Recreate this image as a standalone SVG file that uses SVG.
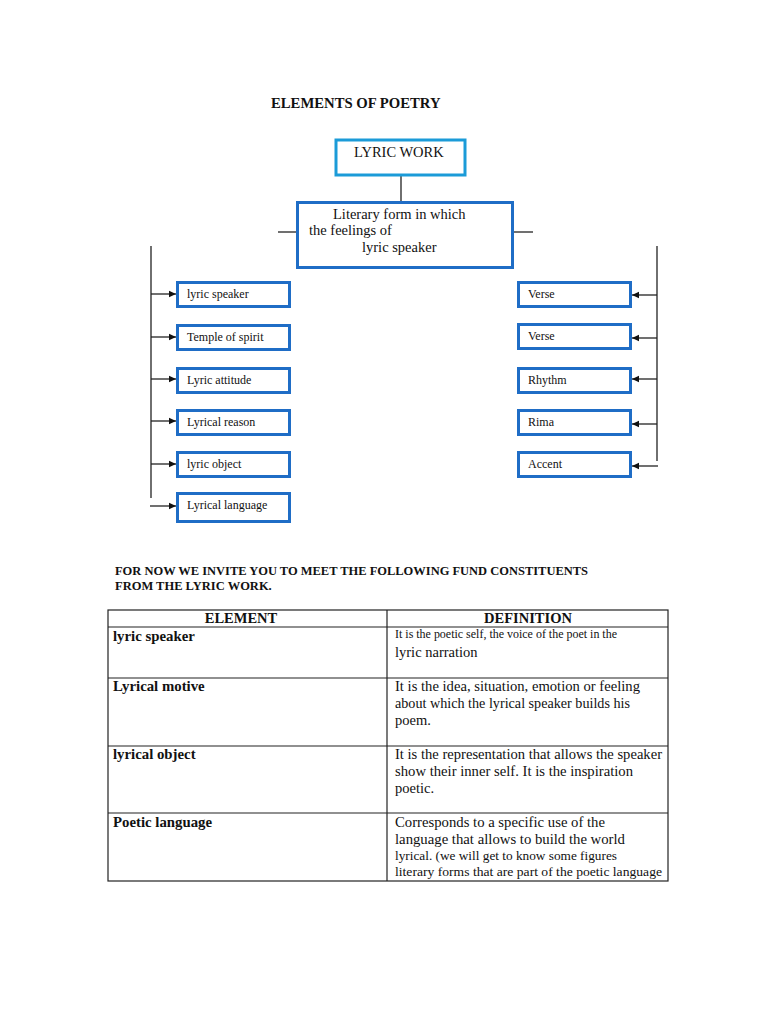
<svg xmlns="http://www.w3.org/2000/svg" width="768" height="1024" viewBox="0 0 768 1024">
<style>
text{font-family:"Liberation Serif","Times New Roman",serif;fill:#111}
.b{font-weight:bold}
.box{fill:#fff;stroke:#1f6dc6;stroke-width:3}
.top{fill:#fff;stroke:#1b9bd8;stroke-width:3}
.ln{stroke:#222;stroke-width:1.3;fill:none}
.tb{stroke:#222;stroke-width:1.2;fill:none}
.s{font-size:12px}
.m{font-size:14.5px}
.lc{font-size:14.8px;font-weight:bold}
</style>
<defs>
<marker id="ah" markerWidth="8" markerHeight="8" refX="7" refY="4" orient="auto" markerUnits="userSpaceOnUse">
<path d="M0,0.8 L7,4 L0,7.2 Z" fill="#111"/>
</marker>
</defs>
<rect width="768" height="1024" fill="#fff"/>
<text class="b" x="271" y="108" font-size="14.7">ELEMENTS OF POETRY</text>

<g id="connectors">
<line class="ln" x1="401" y1="176" x2="401" y2="202"/>
<line class="ln" x1="278" y1="232" x2="297" y2="232"/>
<line class="ln" x1="513" y1="232" x2="533" y2="232"/>
<line class="ln" x1="151" y1="246" x2="151" y2="498"/>
<line class="ln" x1="151" y1="294" x2="176" y2="294" marker-end="url(#ah)"/>
<line class="ln" x1="151" y1="337" x2="176" y2="337" marker-end="url(#ah)"/>
<line class="ln" x1="151" y1="379" x2="176" y2="379" marker-end="url(#ah)"/>
<line class="ln" x1="151" y1="421" x2="176" y2="421" marker-end="url(#ah)"/>
<line class="ln" x1="151" y1="464" x2="176" y2="464" marker-end="url(#ah)"/>
<line class="ln" x1="150" y1="506" x2="176" y2="506" marker-end="url(#ah)"/>
<line class="ln" x1="657" y1="246" x2="657" y2="461"/>
<line class="ln" x1="657" y1="295" x2="632" y2="295" marker-end="url(#ah)"/>
<line class="ln" x1="657" y1="338" x2="632" y2="338" marker-end="url(#ah)"/>
<line class="ln" x1="657" y1="379" x2="632" y2="379" marker-end="url(#ah)"/>
<line class="ln" x1="657" y1="424" x2="632" y2="424" marker-end="url(#ah)"/>
<line class="ln" x1="658" y1="466" x2="632" y2="466" marker-end="url(#ah)"/>
</g>

<g id="lyric-work"><rect class="top" x="336" y="140" width="129" height="35"/><text x="354" y="157" font-size="14.5">LYRIC WORK</text></g>
<g id="definition-box"><rect class="box" x="297.5" y="202.5" width="215" height="65"/>
<text x="333" y="219" font-size="14.5">Literary form in which</text>
<text x="309" y="235" font-size="14.5">the feelings of</text>
<text x="362" y="252" font-size="14.5">lyric speaker</text></g>

<g id="l1"><rect class="box" x="177.5" y="282.5" width="112" height="24"/><text class="s" x="187" y="298">lyric speaker</text></g>
<g id="l2"><rect class="box" x="177.5" y="325.5" width="112" height="24"/><text class="s" x="187" y="341">Temple of spirit</text></g>
<g id="l3"><rect class="box" x="177.5" y="368.5" width="112" height="24"/><text class="s" x="187" y="384">Lyric attitude</text></g>
<g id="l4"><rect class="box" x="177.5" y="410.5" width="112" height="24"/><text class="s" x="187" y="426">Lyrical reason</text></g>
<g id="l5"><rect class="box" x="177.5" y="452.5" width="112" height="24"/><text class="s" x="187" y="468">lyric object</text></g>
<g id="l6"><rect class="box" x="177.5" y="493.5" width="112" height="28"/><text class="s" x="187" y="509">Lyrical language</text></g>

<g id="r1"><rect class="box" x="518.5" y="282.5" width="112" height="24"/><text class="s" x="528" y="298">Verse</text></g>
<g id="r2"><rect class="box" x="518.5" y="324.5" width="112" height="24"/><text class="s" x="528" y="340">Verse</text></g>
<g id="r3"><rect class="box" x="518.5" y="368.5" width="112" height="24"/><text class="s" x="528" y="384">Rhythm</text></g>
<g id="r4"><rect class="box" x="518.5" y="410.5" width="112" height="24"/><text class="s" x="528" y="426">Rima</text></g>
<g id="r5"><rect class="box" x="518.5" y="452.5" width="112" height="24"/><text class="s" x="528" y="468">Accent</text></g>

<text class="b" x="115" y="575" font-size="12.5" textLength="473" lengthAdjust="spacingAndGlyphs">FOR NOW WE INVITE YOU TO MEET THE FOLLOWING FUND CONSTITUENTS</text>
<text class="b" x="115" y="590" font-size="12.5">FROM THE LYRIC WORK.</text>

<g id="table">
<rect class="tb" x="108" y="610" width="560" height="271"/>
<line class="tb" x1="387" y1="610" x2="387" y2="881"/>
<line class="tb" x1="108" y1="627" x2="668" y2="627"/>
<line class="tb" x1="108" y1="678" x2="668" y2="678"/>
<line class="tb" x1="108" y1="746" x2="668" y2="746"/>
<line class="tb" x1="108" y1="813" x2="668" y2="813"/>
<text class="b" x="241" y="623" font-size="14.5" text-anchor="middle">ELEMENT</text>
<text class="b" x="528" y="623" font-size="14.5" text-anchor="middle">DEFINITION</text>
<text class="lc" x="113" y="641">lyric speaker</text>
<text class="lc" x="113" y="691">Lyrical motive</text>
<text class="lc" x="113" y="759">lyrical object</text>
<text class="lc" x="113" y="827">Poetic language</text>
<text x="395" y="638" font-size="12" textLength="222" lengthAdjust="spacingAndGlyphs">It is the poetic self, the voice of the poet in the</text>
<text class="m" x="395" y="657">lyric narration</text>
<text class="m" x="395" y="691" textLength="245" lengthAdjust="spacingAndGlyphs">It is the idea, situation, emotion or feeling</text>
<text class="m" x="395" y="708" textLength="235" lengthAdjust="spacingAndGlyphs">about which the lyrical speaker builds his</text>
<text class="m" x="395" y="725">poem.</text>
<text class="m" x="395" y="759" textLength="267" lengthAdjust="spacingAndGlyphs">It is the representation that allows the speaker</text>
<text class="m" x="395" y="776" textLength="238" lengthAdjust="spacingAndGlyphs">show their inner self. It is the inspiration</text>
<text class="m" x="395" y="793">poetic.</text>
<text class="m" x="395" y="827" textLength="210" lengthAdjust="spacingAndGlyphs">Corresponds to a specific use of the</text>
<text class="m" x="395" y="844" textLength="230" lengthAdjust="spacingAndGlyphs">language that allows to build the world</text>
<text x="395" y="860" font-size="13.3" textLength="222" lengthAdjust="spacingAndGlyphs">lyrical. (we will get to know some figures</text>
<text x="395" y="876" font-size="13.5" textLength="267" lengthAdjust="spacingAndGlyphs">literary forms that are part of the poetic language</text>
</g>
</svg>
